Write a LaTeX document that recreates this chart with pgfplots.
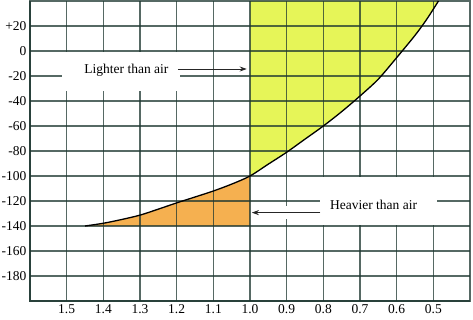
\documentclass[border=0pt]{standalone}
\usepackage{pgfplots}
\pgfplotsset{compat=1.18}
\usepackage{fontspec}
\setmainfont{Liberation Serif}
\usetikzlibrary{arrows.meta}
\definecolor{gridc}{RGB}{30,55,48}
\definecolor{lite}{RGB}{230,245,88}
\definecolor{heavy}{RGB}{245,176,80}
\begin{document}
\begin{tikzpicture}
\begin{axis}[
 name=ax,
 set layers,
 scale only axis, width=440pt, height=300pt,
 x dir=reverse,
 xmin=0.4, xmax=1.6, ymin=-200, ymax=40,
 xtick={0.5,0.6,0.7,0.8,0.9,1.0,1.1,1.2,1.3,1.4,1.5},
 xticklabels={0.5,0.6,0.7,0.8,0.9,1.0,1.1,1.2,1.3,1.4,1.5},
 ytick={-180,-160,-140,-120,-100,-80,-60,-40,-20,0,20},
 yticklabels={-180,-160,-140,-120,-100,-80,-60,-40,-20,0,+20},
 grid=major,
 major grid style={draw=gridc, draw opacity=0.75, line width=1.05pt},
 major tick length=0pt,
 axis line style={draw=gridc, draw opacity=0.75, line width=1.05pt},
 tick label style={font=\fontsize{13.5}{16}\selectfont},
]
% lighter-than-air region
\addplot[fill=lite, draw=none, on layer=axis background] coordinates {
 (1.0,40) (1.0,-100) (0.95,-90.5) (0.9,-81) (0.85,-70.5) (0.8,-60) (0.75,-48.5)
 (0.7,-36) (0.65,-22.5) (0.6,-5.3) (0.55,12.5) (0.52,24.5) (0.5,33.5) (0.486,40)};
% heavier-than-air region
\addplot[fill=heavy, draw=none, on layer=axis background] coordinates {
 (1.45,-140) (1.4,-137.8) (1.35,-134.8) (1.3,-131.3) (1.25,-126.5) (1.2,-121.5)
 (1.15,-116.8) (1.1,-112) (1.05,-106.5) (1.0,-100) (1.0,-140)};
% curve
\addplot[black, line width=1.3pt, smooth] coordinates {
 (1.45,-140) (1.4,-137.8) (1.35,-134.8) (1.3,-131.3) (1.25,-126.5) (1.2,-121.5)
 (1.15,-116.8) (1.1,-112) (1.05,-106.5) (1.0,-100) (0.95,-90.5) (0.9,-81)
 (0.85,-70.5) (0.8,-60) (0.75,-48.5) (0.7,-36) (0.65,-22.5) (0.6,-5.3)
 (0.55,12.5) (0.52,24.5) (0.5,33.5) (0.486,40)};
\begin{pgfonlayer}{axis foreground}
\draw[draw=gridc, draw opacity=0.8, line width=2pt] (rel axis cs:0,1) -- (rel axis cs:0,0) -- (rel axis cs:1,0);
\fill[white] (axis cs:1.513,-1) rectangle (axis cs:1.1915,-32.3);
\node[font=\fontsize{13.5}{16}\selectfont] at (axis cs:1.337,-15.5) {Lighter than air};
\draw[-{Stealth[length=7pt,width=5pt]}, line width=0.9pt, black!85] (axis cs:1.197,-14.4) -- (axis cs:1.009,-14.4);
\fill[white] (axis cs:0.808,-101) rectangle (axis cs:0.489,-139);
\fill[white] (axis cs:0.995,-124.3) rectangle (axis cs:0.808,-134.6);
\node[font=\fontsize{13.5}{16}\selectfont] at (axis cs:0.663,-123.2) {Heavier than air};
\draw[-{Stealth[length=7pt,width=5pt]}, line width=0.9pt, black!85] (axis cs:0.808,-129.3) -- (axis cs:0.995,-129.3);
\end{pgfonlayer}
\end{axis}
\pgfresetboundingbox
\path ([shift={(-30pt,-18pt)}]ax.south west) rectangle ([shift={(3pt,1pt)}]ax.north east);
\end{tikzpicture}
\end{document}
